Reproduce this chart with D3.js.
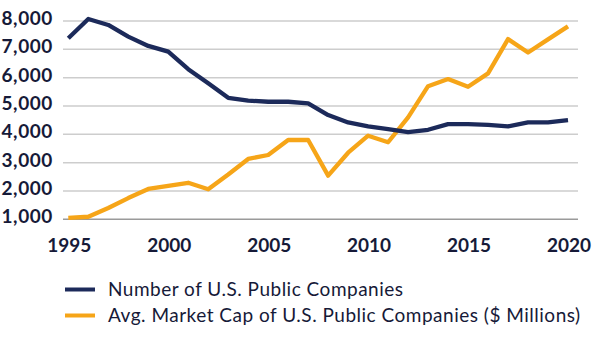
<!DOCTYPE html>
<html><head><meta charset="utf-8">
<script src="https://cdn.jsdelivr.net/npm/d3@7"></script>
<style>
html,body{margin:0;padding:0;background:#fff;}
svg{display:block;}
</style></head>
<body><svg id="c" width="600" height="338"></svg>
<script>
const years = [1995,1996,1997,1998,1999,2000,2001,2002,2003,2004,2005,2006,2007,2008,2009,2010,2011,2012,2013,2014,2015,2016,2017,2018,2019,2020];
const numCompanies = [7390,8070,7860,7450,7120,6920,6300,5800,5290,5190,5150,5150,5090,4680,4420,4280,4180,4080,4160,4360,4360,4330,4280,4420,4420,4500];
const avgMarketCap = [1050,1090,1400,1750,2070,2180,2290,2060,2580,3130,3270,3800,3800,2540,3350,3950,3720,4600,5700,5950,5680,6150,7360,6890,7350,7810];
const yTicks = [1000,2000,3000,4000,5000,6000,7000,8000];
const xTicks = [1995,2000,2005,2010,2015,2020];
const seriesNames = ["Number of U.S. Public Companies","Avg. Market Cap of U.S. Public Companies ($ Millions)"];
const colors = ["#1c2a5a","#f6a518"];
const textColor = "#161a38";

const svg = d3.select("#c");
const x = d3.scaleLinear().domain([1995,2020]).range([68.3,568]);
const y = d3.scaleLinear().domain([1000,8000]).range([219.3,21]);
const gridX0 = 63, gridX1 = 578;

svg.append("g").selectAll("line").data(yTicks).join("line")
  .attr("x1",gridX0).attr("x2",gridX1)
  .attr("y1",d=>y(d)).attr("y2",d=>y(d))
  .attr("stroke",d=>d===1000?"#9a9a9a":"#cdcdcd")
  .attr("stroke-width",1.5);

const fmt = d3.format(",");
svg.append("g").selectAll("text").data(yTicks).join("text")
  .attr("x",53).attr("y",d=>y(d)+4)
  .attr("text-anchor","end")
  .attr("font-family","Lato").attr("font-weight",700).attr("font-size",19)
  .attr("letter-spacing",0.6)
  .attr("fill",textColor)
  .text(d=>fmt(d));

svg.append("g").selectAll("text").data(xTicks).join("text")
  .attr("x",d=>x(d)+1).attr("y",252)
  .attr("text-anchor","middle")
  .attr("font-family","Lato").attr("font-weight",700).attr("font-size",19)
  .attr("fill",textColor)
  .text(d=>d);

const line = d3.line().x(d=>x(d[0])).y(d=>y(d[1]));
const series = [numCompanies, avgMarketCap];
[1,0].forEach(i=>{
  svg.append("path")
    .datum(years.map((yr,j)=>[yr, series[i][j]]))
    .attr("d",line)
    .attr("fill","none")
    .attr("stroke",colors[i])
    .attr("stroke-width",4.3)
    .attr("stroke-linejoin","round")
    .attr("stroke-linecap","butt");
});

const lg = svg.append("g");
seriesNames.forEach((name,i)=>{
  const ly = 289.5 + i*26;
  lg.append("line").attr("x1",65).attr("x2",95).attr("y1",ly).attr("y2",ly)
    .attr("stroke",colors[i]).attr("stroke-width",4);
  lg.append("text").attr("x",108).attr("y",ly+6.5)
    .attr("font-family","Lato").attr("font-size",19)
    .attr("letter-spacing",0.5)
    .attr("fill",textColor).text(name);
});
</script></body></html>
